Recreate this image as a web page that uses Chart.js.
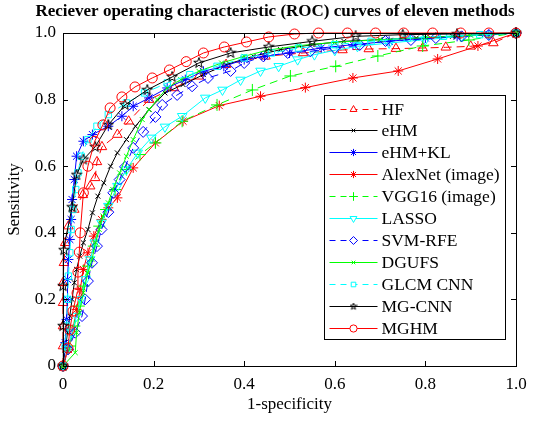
<!DOCTYPE html>
<html>
<head>
<meta charset="utf-8">
<script src="https://cdn.jsdelivr.net/npm/chart.js@4"></script>
<style>
  body { margin: 0; background: #fff; }
</style>
</head>
<body>
<canvas id="roc" width="550" height="425"></canvas>
<script>
// valores (1-especificidad / sensibilidad)
const methods = ['HF', 'eHM', 'eHM+KL', 'AlexNet (image)', 'VGG16 (image)', 'LASSO',
                 'SVM-RFE', 'DGUFS', 'GLCM CNN', 'MG-CNN', 'MGHM'];
const xTicks = [0, 0.2, 0.4, 0.6, 0.8, 1];

const hfFpr = [0, 0, 0, 0, 0, 0.002, 0.005, 0.012, 0.025, 0.044, 0.06, 0.071, 0.075, 0.086, 0.12, 0.145, 0.19, 0.245, 0.3, 0.36, 0.447, 0.53, 0.617, 0.675, 0.735, 0.794, 0.845, 0.9, 0.95, 1];
const hfTpr = [0, 0.06, 0.12, 0.19, 0.25, 0.31, 0.37, 0.42, 0.47, 0.514, 0.54, 0.565, 0.613, 0.658, 0.695, 0.735, 0.8, 0.835, 0.87, 0.905, 0.93, 0.94, 0.949, 0.952, 0.953, 0.955, 0.957, 0.96, 0.97, 1];

const ehmFpr = [0, 0.005, 0.01, 0.015, 0.02, 0.025, 0.03, 0.037, 0.045, 0.055, 0.065, 0.077, 0.09, 0.105, 0.12, 0.14, 0.16, 0.19, 0.225, 0.265, 0.31, 0.36, 0.42, 0.48, 0.55, 0.62, 0.7, 0.78, 0.86, 0.93, 1];
const ehmTpr = [0, 0.05, 0.1, 0.15, 0.2, 0.25, 0.29, 0.33, 0.37, 0.41, 0.46, 0.51, 0.55, 0.6, 0.64, 0.68, 0.72, 0.77, 0.82, 0.845, 0.875, 0.905, 0.93, 0.95, 0.965, 0.975, 0.98, 0.985, 0.99, 0.995, 1];

const ehmKlFpr = [0, 0.005, 0.008, 0.01, 0.01, 0.012, 0.015, 0.018, 0.02, 0.025, 0.03, 0.045, 0.065, 0.1, 0.13, 0.155, 0.19, 0.23, 0.27, 0.31, 0.355, 0.4, 0.445, 0.5, 0.57, 0.64, 0.72, 0.8, 0.87, 0.94, 1];
const ehmKlTpr = [0, 0.07, 0.14, 0.2, 0.26, 0.32, 0.38, 0.44, 0.5, 0.56, 0.63, 0.675, 0.695, 0.72, 0.75, 0.78, 0.805, 0.835, 0.86, 0.885, 0.9, 0.92, 0.93, 0.94, 0.955, 0.965, 0.975, 0.985, 0.99, 0.995, 1];

const alexFpr = [0, 0.012, 0.022, 0.03, 0.038, 0.045, 0.055, 0.068, 0.085, 0.1, 0.12, 0.155, 0.204, 0.265, 0.345, 0.436, 0.535, 0.64, 0.74, 0.827, 0.916, 1];
const alexTpr = [0, 0.05, 0.11, 0.17, 0.23, 0.29, 0.34, 0.39, 0.44, 0.475, 0.505, 0.595, 0.67, 0.735, 0.782, 0.81, 0.836, 0.865, 0.886, 0.922, 0.961, 1];

const vggFpr = [0, 0.015, 0.025, 0.035, 0.045, 0.055, 0.068, 0.08, 0.095, 0.115, 0.14, 0.17, 0.204, 0.263, 0.34, 0.418, 0.502, 0.602, 0.695, 0.794, 0.896, 1];
const vggTpr = [0, 0.06, 0.12, 0.18, 0.24, 0.3, 0.36, 0.42, 0.47, 0.53, 0.59, 0.635, 0.67, 0.735, 0.784, 0.829, 0.871, 0.9, 0.931, 0.961, 0.979, 1];

const lassoFpr = [0, 0.01, 0.02, 0.03, 0.04, 0.05, 0.06, 0.07, 0.085, 0.1, 0.12, 0.14, 0.165, 0.195, 0.225, 0.263, 0.314, 0.352, 0.392, 0.436, 0.476, 0.518, 0.555, 0.6, 0.65, 0.72, 0.8, 0.88, 0.94, 1];
const lassoTpr = [0, 0.05, 0.1, 0.15, 0.2, 0.26, 0.32, 0.37, 0.43, 0.48, 0.54, 0.59, 0.64, 0.685, 0.718, 0.75, 0.805, 0.829, 0.859, 0.886, 0.9, 0.92, 0.935, 0.948, 0.96, 0.97, 0.98, 0.99, 0.995, 1];

const svmFpr = [0, 0.011, 0.027, 0.042, 0.049, 0.055, 0.064, 0.075, 0.085, 0.1, 0.111, 0.125, 0.137, 0.155, 0.177, 0.204, 0.219, 0.252, 0.285, 0.32, 0.37, 0.4, 0.442, 0.496, 0.546, 0.6, 0.655, 0.712, 0.768, 0.823, 0.88, 0.94, 1];
const svmTpr = [0, 0.05, 0.1, 0.15, 0.2, 0.255, 0.31, 0.36, 0.41, 0.462, 0.52, 0.56, 0.598, 0.655, 0.703, 0.748, 0.784, 0.814, 0.84, 0.865, 0.886, 0.91, 0.93, 0.94, 0.945, 0.955, 0.964, 0.976, 0.979, 0.985, 0.99, 0.994, 1];

const dgufsFpr = [0, 0.027, 0.03, 0.036, 0.045, 0.055, 0.064, 0.072, 0.08, 0.088, 0.1, 0.11, 0.125, 0.14, 0.155, 0.175, 0.19, 0.208, 0.23, 0.26, 0.3, 0.35, 0.4, 0.45, 0.52, 0.6, 0.7, 0.8, 0.9, 1];
const dgufsTpr = [0, 0.04, 0.1, 0.16, 0.22, 0.28, 0.32, 0.37, 0.41, 0.45, 0.49, 0.53, 0.58, 0.63, 0.68, 0.74, 0.77, 0.8, 0.835, 0.86, 0.885, 0.91, 0.93, 0.948, 0.962, 0.972, 0.98, 0.986, 0.993, 1];

const glcmFpr = [0, 0.005, 0.008, 0.01, 0.012, 0.015, 0.018, 0.022, 0.028, 0.033, 0.04, 0.055, 0.075, 0.1, 0.14, 0.18, 0.23, 0.28, 0.34, 0.4, 0.46, 0.52, 0.6, 0.68, 0.76, 0.84, 0.92, 1];
const glcmTpr = [0, 0.06, 0.12, 0.2, 0.27, 0.34, 0.41, 0.47, 0.53, 0.58, 0.63, 0.68, 0.72, 0.755, 0.79, 0.82, 0.85, 0.875, 0.9, 0.925, 0.94, 0.955, 0.965, 0.975, 0.985, 0.99, 0.995, 1];

const mgcnnFpr = [0, 0, 0, 0.002, 0.02, 0.03, 0.045, 0.071, 0.1, 0.137, 0.186, 0.241, 0.3, 0.37, 0.454, 0.55, 0.646, 0.75, 0.87, 1];
const mgcnnTpr = [0, 0.12, 0.24, 0.348, 0.477, 0.574, 0.62, 0.658, 0.724, 0.784, 0.829, 0.868, 0.91, 0.94, 0.958, 0.975, 0.99, 0.995, 0.997, 1];

const mghmFpr = [0, 0.011, 0.015, 0.022, 0.031, 0.033, 0.036, 0.038, 0.045, 0.055, 0.07, 0.088, 0.104, 0.13, 0.159, 0.197, 0.235, 0.272, 0.31, 0.356, 0.405, 0.454, 0.511, 0.564, 0.628, 0.69, 0.752, 0.816, 0.878, 0.94, 1];
const mghmTpr = [0, 0.054, 0.108, 0.165, 0.219, 0.282, 0.342, 0.4, 0.52, 0.6, 0.675, 0.724, 0.775, 0.808, 0.838, 0.865, 0.889, 0.914, 0.94, 0.958, 0.973, 0.988, 0.997, 1, 1, 1, 1, 1, 1, 1, 1];

const fprs = [hfFpr, ehmFpr, ehmKlFpr, alexFpr, vggFpr, lassoFpr, svmFpr, dgufsFpr, glcmFpr, mgcnnFpr, mghmFpr];
const tprs = [hfTpr, ehmTpr, ehmKlTpr, alexTpr, vggTpr, lassoTpr, svmTpr, dgufsTpr, glcmTpr, mgcnnTpr, mghmTpr];

// estrella de cinco puntas (marcador 'p' de matlab)
function pentagram(size, color) {
    const c = document.createElement('canvas');
    c.width = c.height = size;
    const g = c.getContext('2d');
    g.strokeStyle = color;
    g.lineWidth = 1;
    const R = size / 2 - 0.5, r = R * 0.4;
    g.beginPath();
    for (let k = 0; k < 10; k++) {
        const a = -Math.PI / 2 + k * Math.PI / 5;
        const rad = k % 2 ? r : R;
        g.lineTo(size / 2 + rad * Math.cos(a), size / 2 + rad * Math.sin(a));
    }
    g.closePath();
    g.stroke();
    return c;
}

const dash = [8, 5];
const styles = [
    { color: '#ff0000', dash: dash, point: 'triangle', rot: 0, r: 5.5 },
    { color: '#000000', dash: [], point: 'crossRot', rot: 0, r: 3.5 },
    { color: '#0000ff', dash: [], point: 'star', rot: 0, r: 5 },
    { color: '#ff0000', dash: [], point: 'star', rot: 0, r: 5 },
    { color: '#00ff00', dash: dash, point: 'cross', rot: 0, r: 6 },
    { color: '#00ffff', dash: [], point: 'triangle', rot: 180, r: 5.5 },
    { color: '#0000ff', dash: dash, point: 'rectRot', rot: 0, r: 5.5 },
    { color: '#00ff00', dash: [], point: 'crossRot', rot: 0, r: 3.5 },
    { color: '#00ffff', dash: dash, point: 'rect', rot: 0, r: 4.5 },
    { color: '#000000', dash: [], point: pentagram(12, '#000000'), rot: 0, r: 6 },
    { color: '#ff0000', dash: [], point: 'circle', rot: 0, r: 5 }
];
const pentaChico = pentagram(8, '#000000');

const datasets = methods.map((name, i) => ({
    label: name,
    data: fprs[i].map((fx, k) => ({ x: fx, y: tprs[i][k] })),
    borderColor: styles[i].color,
    backgroundColor: 'rgba(0,0,0,0)',
    borderWidth: 1,
    borderDash: styles[i].dash,
    pointStyle: styles[i].point,
    pointRotation: styles[i].rot,
    pointRadius: styles[i].r,
    pointBorderColor: styles[i].color,
    pointBackgroundColor: 'rgba(0,0,0,0)',
    pointBorderWidth: 1,
    tension: 0,
    clip: false,
    order: methods.length - i,
    xAxisID: 'x',
    yAxisID: 'y'
}));

// caja del eje con marcas hacia adentro
const marcoEjes = {
    id: 'marcoEjes',
    afterDatasetsDraw(chart) {
        const { ctx, chartArea: a, scales: { x, y } } = chart;
        ctx.save();
        ctx.strokeStyle = '#000';
        ctx.lineWidth = 1;
        ctx.setLineDash([]);
        ctx.strokeRect(Math.round(a.left) + 0.5, Math.round(a.top) + 0.5,
                       Math.round(a.right - a.left), Math.round(a.bottom - a.top));
        ctx.beginPath();
        x.ticks.forEach(t => {
            const px = Math.round(x.getPixelForValue(t.value)) + 0.5;
            ctx.moveTo(px, a.bottom); ctx.lineTo(px, a.bottom - 5);
            ctx.moveTo(px, a.top); ctx.lineTo(px, a.top + 5);
        });
        y.ticks.forEach(t => {
            const py = Math.round(y.getPixelForValue(t.value)) + 0.5;
            ctx.moveTo(a.left, py); ctx.lineTo(a.left + 5, py);
            ctx.moveTo(a.right, py); ctx.lineTo(a.right - 5, py);
        });
        ctx.stroke();
        ctx.restore();
    }
};

// leyenda dentro del area de la grafica
const leyenda = {
    id: 'leyenda',
    afterDraw(chart) {
        const { ctx, chartArea: a } = chart;
        const w = 181, h = 244;
        const left = Math.round(a.right - 11 - w) + 0.5;
        const top = Math.round(a.top + 62) + 0.5;
        ctx.save();
        ctx.fillStyle = '#fff';
        ctx.fillRect(left, top, w, h);
        ctx.strokeStyle = '#000';
        ctx.lineWidth = 1;
        ctx.strokeRect(left, top, w, h);
        ctx.font = '17.5px "Liberation Serif"';
        ctx.textBaseline = 'middle';
        chart.data.datasets.forEach((ds, i) => {
            const yy = Math.round(top + 13 + i * 21.9) + 0.5;
            ctx.strokeStyle = ds.borderColor;
            ctx.setLineDash(ds.borderDash.length ? [6, 5] : []);
            ctx.beginPath();
            ctx.moveTo(left + 5, yy);
            ctx.lineTo(left + 53, yy);
            ctx.stroke();
            ctx.setLineDash([]);
            ctx.fillStyle = '#fff';
            const chico = typeof ds.pointStyle === 'string' ? ds.pointStyle : pentaChico;
            Chart.helpers.drawPoint(ctx, {
                pointStyle: chico,
                rotation: ds.pointRotation,
                radius: ds.pointRadius * 0.72,
                borderWidth: 1
            }, left + 29, yy);
            ctx.fillStyle = '#000';
            ctx.fillText(ds.label, left + 57, yy + 1);
        });
        ctx.restore();
    }
};

Chart.defaults.font.family = '"Liberation Serif", "Times New Roman", serif';
Chart.defaults.color = '#000';

new Chart(document.getElementById('roc'), {
    type: 'line',
    data: { datasets: datasets },
    options: {
        responsive: false,
        animation: false,
        layout: { padding: 0 },
        plugins: {
            legend: { display: false },
            tooltip: { enabled: false },
            title: {
                display: true,
                text: 'Reciever operating characteristic (ROC) curves of eleven methods',
                font: { size: 17, weight: 'bold' },
                padding: { top: 1, bottom: 11.6 },
                color: '#000'
            }
        },
        scales: {
            x: {
                type: 'linear',
                position: 'bottom',
                min: 0,
                max: 1,
                afterBuildTicks: s => { s.ticks = xTicks.map(v => ({ value: v })); },
                ticks: { font: { size: 17 }, padding: 8, maxRotation: 0 },
                grid: { display: false, drawTicks: false },
                border: { display: false },
                title: { display: true, text: '1-specificity', font: { size: 17 }, padding: { top: 0, bottom: 10 } },
                afterFit: s => { s.height = 59; }
            },
            y: {
                type: 'linear',
                position: 'left',
                min: 0,
                max: 1,
                afterBuildTicks: s => { s.ticks = xTicks.map(v => ({ value: v })); },
                ticks: { font: { size: 17 }, padding: 7 },
                grid: { display: false, drawTicks: false },
                border: { display: false },
                title: { display: true, text: 'Sensitivity', font: { size: 17 }, padding: { top: 4, bottom: 0 } },
                afterFit: s => { s.width = 63; }
            },
            y2: {
                type: 'linear',
                position: 'right',
                ticks: { display: false },
                grid: { display: false, drawTicks: false },
                border: { display: false },
                afterFit: s => { s.width = 34; }
            }
        }
    },
    plugins: [marcoEjes, leyenda]
});
</script>
</body>
</html>
